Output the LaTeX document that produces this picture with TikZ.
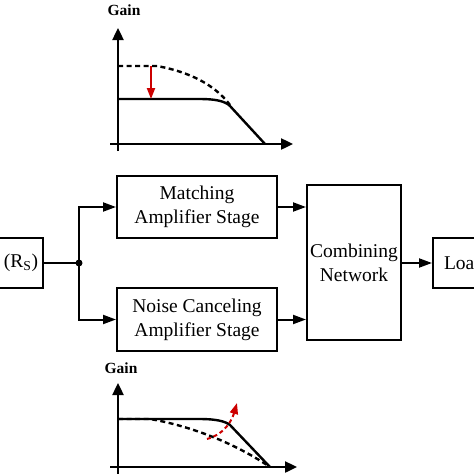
\documentclass[tikz,border=0pt]{standalone}
\usepackage{fontspec}
\setmainfont{Liberation Serif}
\usetikzlibrary{arrows.meta}
\begin{document}
\begin{tikzpicture}[x=1pt,y=-1pt,
  blk/.style={draw,line width=2pt,align=center,font=\fontsize{19.5}{24}\selectfont,inner sep=0pt},
  wire/.style={line width=2pt},
  arr/.style={wire,-{Triangle[length=13pt,width=9pt]}},
  axis/.style={line width=2.4pt,-{Triangle[length=12pt,width=11pt]}},
  curve/.style={line width=2.4pt},
  redarr/.style={red!80!black,line width=2pt,-{Triangle[length=11pt,width=8pt]}},
  gainlbl/.style={font=\fontsize{15.5}{18}\selectfont\bfseries}]
\useasboundingbox (0,0) rectangle (474,474);
\clip (0,0) rectangle (474,474);
% blocks
\node[blk,minimum width=106pt,minimum height=50pt] (src) at (-10,263) {};
\node[font=\fontsize{19.5}{24}\selectfont] (srclbl) at (21,263) {(R\textsubscript{S})};
\node[blk,minimum width=160pt,minimum height=62pt] (match) at (197,207) {Matching\\Amplifier Stage};
\node[blk,minimum width=160pt,minimum height=63pt] (noise) at (197,319.5) {Noise Canceling\\Amplifier Stage};
\node[blk,minimum width=94pt,minimum height=155pt] (comb) at (354,262.5) {Combining\\Network};
\node[blk,anchor=west,minimum height=50pt,inner xsep=11pt,text width=80pt,align=left] (load) at (432,263) {Load};
% connectors
\coordinate (split) at (79,263);
\draw[wire] (src.east) -- (split);
\fill (split) circle (3.5pt);
\draw[arr] (split) |- (match.west);
\draw[arr] (split) |- (noise.west);
\draw[arr] (match.east) -- (match.east -| comb.west);
\draw[arr] (noise.east) -- (noise.east -| comb.west);
\draw[arr] (comb.east |- load.west) -- (load.west);
% top gain plot
\node[gainlbl] (g1) at (124,10) {Gain};
\coordinate (ya0) at (118,151);
\coordinate (ya1) at (118,28);
\coordinate (xa0) at (110,144);
\coordinate (xa1) at (293,144);
\draw[axis] (ya0) -- (ya1);
\draw[axis] (xa0) -- (xa1);
\draw[curve,dash pattern=on 5pt off 3.5pt] (118,66) -- (157,66) .. controls (190,72) and (215,85) .. (230,105);
\draw[curve] (118,99) -- (200,99) .. controls (215,99) and (225,101) .. (230,106) -- (265,144);
\draw[redarr] (151,66) -- (151,99);
% bottom gain plot
\node[gainlbl] (g2) at (121,368) {Gain};
\coordinate (yb0) at (118,480);
\coordinate (yb1) at (118,383);
\coordinate (xb0) at (110,467);
\coordinate (xb1) at (297,467);
\draw[axis] (yb0) -- (yb1);
\draw[axis] (xb0) -- (xb1);
\draw[curve] (118,419) -- (200,419) .. controls (215,419) and (225,421) .. (230,425) -- (270,467);
\draw[curve,dash pattern=on 5pt off 3.5pt] (118,419) -- (150,419) .. controls (185,425) and (230,440) .. (270,467);
\draw[redarr,dash pattern=on 4pt off 3pt] (207,439) .. controls (225,434) and (232,420) .. (237,403);
\end{tikzpicture}
\end{document}
